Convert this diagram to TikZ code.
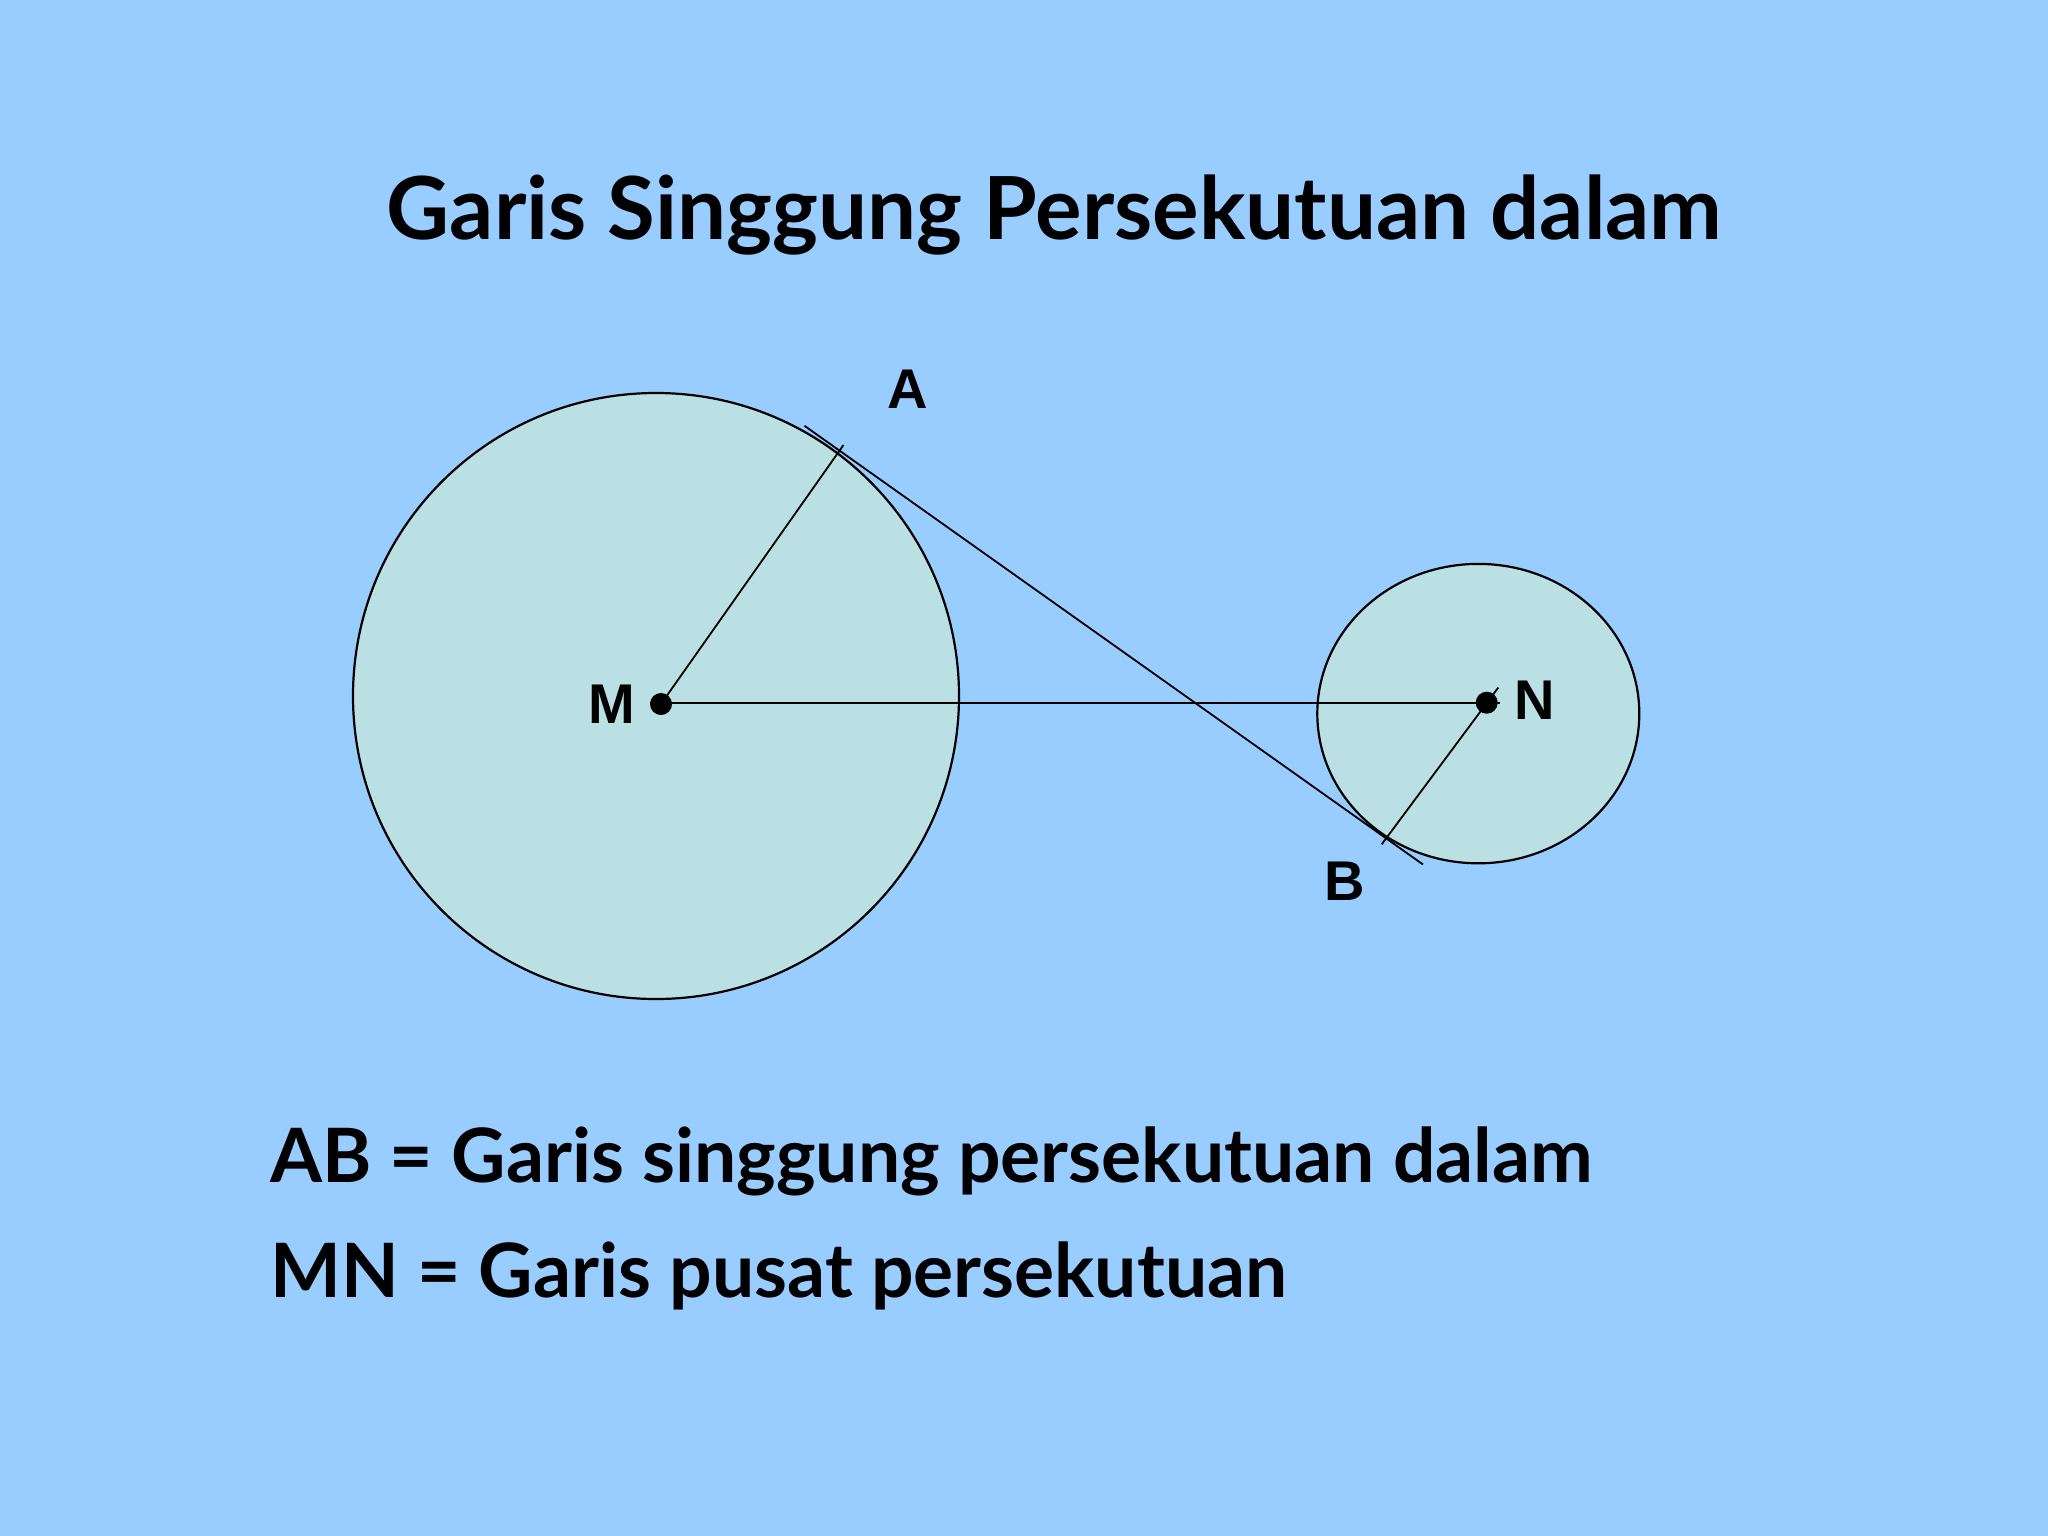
\documentclass[tikz,border=0pt]{standalone}
\usepackage{fontspec}
\setmainfont{Liberation Sans}
\newfontfamily\titlefont{Lato}
\definecolor{bgblue}{RGB}{153,204,255}
\definecolor{disc}{RGB}{187,224,227}
\begin{document}
\begin{tikzpicture}[x=1pt,y=-1pt,
  disk/.style={draw=black,line width=2.2pt,fill=disc},
  seg/.style={draw=black,line width=1.8pt},
  dotmark/.style={circle,fill=black,inner sep=0pt,minimum size=22pt},
  ptlabel/.style={inner sep=0pt,font=\fontsize{56}{60}\selectfont\bfseries},
  titletext/.style={inner sep=0pt,anchor=base west,font=\titlefont\fontsize{87}{100}\selectfont\bfseries},
  bodytext/.style={inner sep=0pt,anchor=base west,font=\titlefont\fontsize{75}{90}\selectfont\bfseries}]
\useasboundingbox (0,0) rectangle (2048,1536);
\fill[bgblue] (0,0) rectangle (2048,1536);
% circles
\draw[disk] (656,696) circle[radius=303];
\draw[disk] (1478.3,713.6) ellipse[x radius=161,y radius=149.7];
% coordinates
\coordinate (Mstart) at (650,702.7);
\coordinate (Nend) at (1500,702.7);
\coordinate (Aend) at (843.5,445);
\coordinate (T1) at (804.5,425.8);
\coordinate (T2) at (1423,864.5);
\coordinate (Bend) at (1381.7,844.3);
\coordinate (Ntick) at (1498.3,687.5);
% dots
\node[dotmark] (M) at (661,704) {};
\node[dotmark] (N) at (1486.7,702.7) {};
% segments
\draw[seg] (Mstart) -- (Nend);
\draw[seg] (M.center) -- (Aend);
\draw[seg] (T1) -- (T2);
\draw[seg] (Ntick) -- (Bend);
% labels
\node[ptlabel] (lA) at (908,389) {A};
\node[ptlabel] (lM) at (612,704) {M};
\node[ptlabel] (lN) at (1534.5,700.7) {N};
\node[ptlabel] (lB) at (1345,881.6) {B};
% texts
\node[titletext] (title) at (386.6,239) {Garis Singgung Persekutuan dalam};
\node[bodytext] (line1) at (270,1182) {AB = Garis singgung persekutuan dalam};
\node[bodytext] (line2) at (270,1297) {MN = Garis pusat persekutuan};
\end{tikzpicture}
\end{document}
